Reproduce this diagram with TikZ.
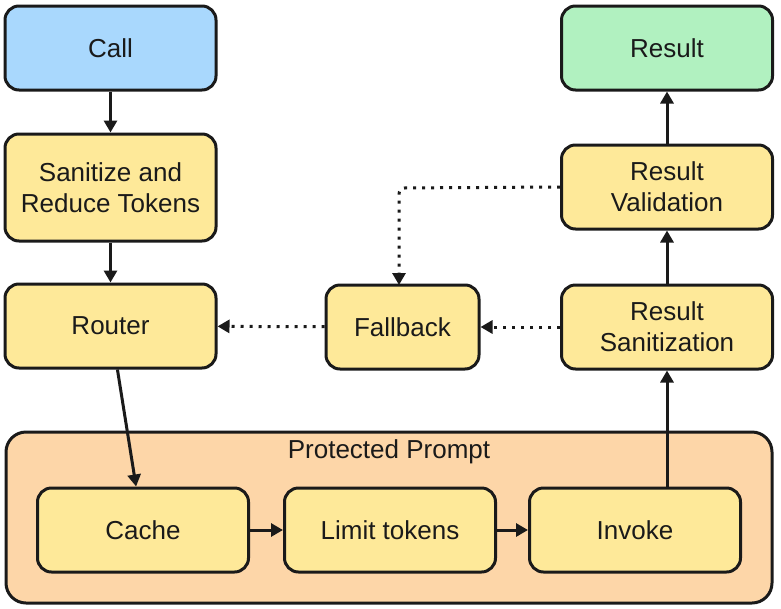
\documentclass[tikz,border=0pt]{standalone}
\usepackage{fontspec}
\setmainfont{Liberation Sans}
\usetikzlibrary{arrows.meta}
\definecolor{yel}{HTML}{FEE999}
\definecolor{blu}{HTML}{A9D8FD}
\definecolor{grn}{HTML}{B1F1C0}
\definecolor{org}{HTML}{FDD6A8}
\definecolor{ink}{HTML}{1A1A1A}
\begin{document}
\begin{tikzpicture}[x=1pt,y=-1pt,
 box/.style={draw=ink,line width=3pt,rounded corners=14pt,fill=yel,minimum width=211pt,minimum height=84pt,align=center,font=\fontsize{26}{31}\selectfont,text=ink},
 arr/.style={draw=ink,line width=3pt,-{Triangle[length=12pt,width=13pt]}},
 dot/.style={arr,dash pattern=on 3pt off 6pt,line cap=butt}]
\useasboundingbox (0,0) rectangle (781,608);
\node[draw=ink,line width=3pt,rounded corners=20pt,fill=org,minimum width=766pt,minimum height=171pt] (grp) at (389,517.5) {};
\node[font=\fontsize{26}{31}\selectfont,text=ink] (gl) at (389,452) {Protected Prompt};
\node[box,fill=blu] (call) at (110.5,48) {Call};
\node[box,minimum height=107pt] (san) at (110.5,187.5) {Sanitize and\\Reduce Tokens};
\node[box] (router) at (110.5,326) {Router};
\node[box,minimum width=153pt] (fb) at (402.5,327) {Fallback};
\node[box] (rs) at (667,327) {Result\\Sanitization};
\node[box] (rv) at (667,187) {Result\\Validation};
\node[box,fill=grn] (res) at (667,48) {Result};
\node[box] (cache) at (143,530) {Cache};
\node[box] (lim) at (390,530) {Limit tokens};
\node[box] (inv) at (635,530) {Invoke};
\draw[arr] (call) -- (san);
\draw[arr] (san) -- (router);
\draw[arr] (router) -- (cache);
\draw[arr] (cache) -- (lim);
\draw[arr] (lim) -- (inv);
\draw[arr] (inv.north -| rs) -- (rs);
\draw[arr] (rs) -- (rv);
\draw[arr] (rv) -- (res);
\draw[dot] (rs) -- (fb);
\draw[dot] (fb) -- (router);
\draw[dot,rounded corners=6pt] (rv.west) -- (399,188) -- (399,285);
\end{tikzpicture}
\end{document}
